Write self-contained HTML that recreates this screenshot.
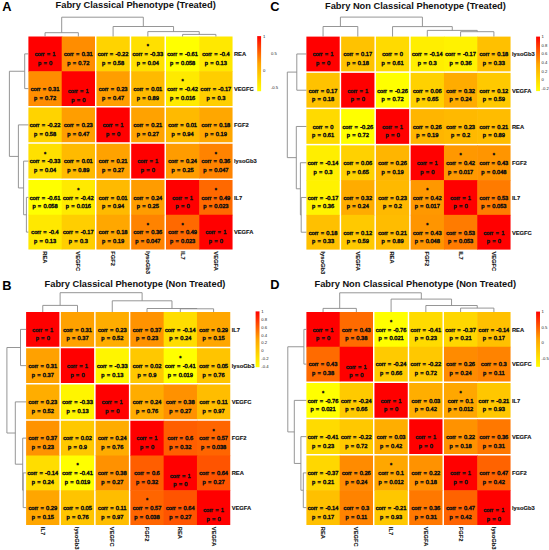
<!DOCTYPE html>
<html><head><meta charset="utf-8"><title>Fabry correlation heatmaps</title>
<style>
html,body{margin:0;padding:0;background:#fff;}
body{width:549px;height:550px;overflow:hidden;}
svg{display:block;}
svg text{font-family:"Liberation Sans", sans-serif;}
.c{font-size:5.70px;fill:#111;stroke:#111;stroke-width:0.45px;word-spacing:0.7px;text-anchor:middle;text-rendering:geometricPrecision;}
.l{font-size:5.75px;font-weight:bold;fill:#111;stroke:#111;stroke-width:0.12px;}
.t{font-size:4.2px;fill:#222;}
.ti{font-size:9.3px;font-weight:bold;fill:#111;}
.le{font-size:12.8px;font-weight:bold;fill:#000;}
line{stroke:#8a8a8a;stroke-width:0.9;}
</style></head><body>
<svg width="549" height="550" viewBox="0 0 549 550">
<rect width="549" height="550" fill="#fff"/>
<rect x="28.40" y="36.50" width="33.90" height="35.35" fill="#ff0000"/>
<rect x="61.70" y="36.50" width="33.30" height="35.35" fill="#ff8d00"/>
<rect x="96.45" y="36.50" width="33.30" height="35.35" fill="#ffd300"/>
<rect x="131.20" y="36.50" width="33.30" height="35.35" fill="#ffe000"/>
<rect x="165.95" y="36.50" width="33.90" height="35.35" fill="#ffff00"/>
<rect x="199.25" y="36.50" width="33.30" height="35.35" fill="#ffe800"/>
<rect x="28.40" y="71.25" width="33.90" height="34.75" fill="#ff8d00"/>
<rect x="61.70" y="71.25" width="33.30" height="34.75" fill="#ff0000"/>
<rect x="96.45" y="71.25" width="33.30" height="34.75" fill="#ff9e00"/>
<rect x="131.20" y="71.25" width="33.30" height="34.75" fill="#ffba00"/>
<rect x="165.95" y="71.25" width="33.90" height="34.75" fill="#ffea00"/>
<rect x="199.25" y="71.25" width="33.30" height="34.75" fill="#ffce00"/>
<rect x="28.40" y="107.50" width="33.90" height="34.75" fill="#ffd300"/>
<rect x="61.70" y="107.50" width="33.30" height="34.75" fill="#ff9e00"/>
<rect x="96.45" y="107.50" width="33.30" height="34.75" fill="#ff0000"/>
<rect x="131.20" y="107.50" width="33.30" height="34.75" fill="#ffa200"/>
<rect x="165.95" y="107.50" width="33.90" height="34.75" fill="#ffba00"/>
<rect x="199.25" y="107.50" width="33.30" height="34.75" fill="#ffa700"/>
<rect x="28.40" y="143.75" width="33.90" height="34.75" fill="#ffe000"/>
<rect x="61.70" y="143.75" width="33.30" height="34.75" fill="#ffba00"/>
<rect x="96.45" y="143.75" width="33.30" height="34.75" fill="#ffa200"/>
<rect x="131.20" y="143.75" width="33.30" height="34.75" fill="#ff0000"/>
<rect x="165.95" y="143.75" width="33.90" height="34.75" fill="#ff9c00"/>
<rect x="199.25" y="143.75" width="33.30" height="34.75" fill="#ff8300"/>
<rect x="28.40" y="180.00" width="33.90" height="35.35" fill="#ffff00"/>
<rect x="61.70" y="180.00" width="33.30" height="35.35" fill="#ffea00"/>
<rect x="96.45" y="180.00" width="33.30" height="35.35" fill="#ffba00"/>
<rect x="131.20" y="180.00" width="33.30" height="35.35" fill="#ff9c00"/>
<rect x="165.95" y="180.00" width="33.90" height="35.35" fill="#ff0000"/>
<rect x="199.25" y="180.00" width="33.30" height="35.35" fill="#ff6900"/>
<rect x="28.40" y="214.75" width="33.90" height="34.75" fill="#ffe800"/>
<rect x="61.70" y="214.75" width="33.30" height="34.75" fill="#ffce00"/>
<rect x="96.45" y="214.75" width="33.30" height="34.75" fill="#ffa700"/>
<rect x="131.20" y="214.75" width="33.30" height="34.75" fill="#ff8300"/>
<rect x="165.95" y="214.75" width="33.90" height="34.75" fill="#ff6900"/>
<rect x="199.25" y="214.75" width="33.30" height="34.75" fill="#ff0000"/>
<text x="45.05" y="56.17" class="c">corr = 1</text>
<text x="45.05" y="64.78" class="c">p = 0</text>
<text x="78.35" y="56.17" class="c">corr = 0.31</text>
<text x="78.35" y="64.78" class="c">p = 0.72</text>
<text x="113.10" y="56.17" class="c">corr = -0.22</text>
<text x="113.10" y="64.78" class="c">p = 0.58</text>
<text x="147.85" y="56.17" class="c">corr = -0.33</text>
<text x="147.85" y="64.78" class="c">p = 0.04</text>
<text x="147.85" y="48.27" class="c">*</text>
<text x="182.60" y="56.17" class="c">corr = -0.61</text>
<text x="182.60" y="64.78" class="c">p = 0.058</text>
<text x="215.90" y="56.17" class="c">corr = -0.4</text>
<text x="215.90" y="64.78" class="c">p = 0.13</text>
<text x="45.05" y="90.92" class="c">corr = 0.31</text>
<text x="45.05" y="99.53" class="c">p = 0.72</text>
<text x="78.35" y="93.33" class="c">corr = 1</text>
<text x="78.35" y="101.93" class="c">p = 0</text>
<text x="113.10" y="90.92" class="c">corr = 0.23</text>
<text x="113.10" y="99.53" class="c">p = 0.47</text>
<text x="147.85" y="90.92" class="c">corr = 0.01</text>
<text x="147.85" y="99.53" class="c">p = 0.89</text>
<text x="182.60" y="90.92" class="c">corr = -0.42</text>
<text x="182.60" y="99.53" class="c">p = 0.016</text>
<text x="182.60" y="83.03" class="c">*</text>
<text x="215.90" y="90.92" class="c">corr = -0.17</text>
<text x="215.90" y="99.53" class="c">p = 0.3</text>
<text x="45.05" y="127.17" class="c">corr = -0.22</text>
<text x="45.05" y="135.78" class="c">p = 0.58</text>
<text x="78.35" y="127.17" class="c">corr = 0.23</text>
<text x="78.35" y="135.78" class="c">p = 0.47</text>
<text x="113.10" y="127.17" class="c">corr = 1</text>
<text x="113.10" y="135.78" class="c">p = 0</text>
<text x="147.85" y="127.17" class="c">corr = 0.21</text>
<text x="147.85" y="135.78" class="c">p = 0.27</text>
<text x="182.60" y="127.17" class="c">corr = 0.01</text>
<text x="182.60" y="135.78" class="c">p = 0.94</text>
<text x="215.90" y="127.17" class="c">corr = 0.18</text>
<text x="215.90" y="135.78" class="c">p = 0.19</text>
<text x="45.05" y="163.43" class="c">corr = -0.33</text>
<text x="45.05" y="172.03" class="c">p = 0.04</text>
<text x="45.05" y="155.53" class="c">*</text>
<text x="78.35" y="163.43" class="c">corr = 0.01</text>
<text x="78.35" y="172.03" class="c">p = 0.89</text>
<text x="113.10" y="163.43" class="c">corr = 0.21</text>
<text x="113.10" y="172.03" class="c">p = 0.27</text>
<text x="147.85" y="163.43" class="c">corr = 1</text>
<text x="147.85" y="172.03" class="c">p = 0</text>
<text x="182.60" y="163.43" class="c">corr = 0.24</text>
<text x="182.60" y="172.03" class="c">p = 0.25</text>
<text x="215.90" y="163.43" class="c">corr = 0.36</text>
<text x="215.90" y="172.03" class="c">p = 0.047</text>
<text x="215.90" y="155.53" class="c">*</text>
<text x="45.05" y="199.68" class="c">corr = -0.61</text>
<text x="45.05" y="208.28" class="c">p = 0.058</text>
<text x="78.35" y="199.68" class="c">corr = -0.42</text>
<text x="78.35" y="208.28" class="c">p = 0.016</text>
<text x="78.35" y="191.78" class="c">*</text>
<text x="113.10" y="199.68" class="c">corr = 0.01</text>
<text x="113.10" y="208.28" class="c">p = 0.94</text>
<text x="147.85" y="199.68" class="c">corr = 0.24</text>
<text x="147.85" y="208.28" class="c">p = 0.25</text>
<text x="182.60" y="199.68" class="c">corr = 1</text>
<text x="182.60" y="208.28" class="c">p = 0</text>
<text x="215.90" y="199.68" class="c">corr = 0.49</text>
<text x="215.90" y="208.28" class="c">p = 0.023</text>
<text x="215.90" y="191.78" class="c">*</text>
<text x="45.05" y="234.43" class="c">corr = -0.4</text>
<text x="45.05" y="243.03" class="c">p = 0.13</text>
<text x="78.35" y="234.43" class="c">corr = -0.17</text>
<text x="78.35" y="243.03" class="c">p = 0.3</text>
<text x="113.10" y="234.43" class="c">corr = 0.18</text>
<text x="113.10" y="243.03" class="c">p = 0.19</text>
<text x="147.85" y="234.43" class="c">corr = 0.36</text>
<text x="147.85" y="243.03" class="c">p = 0.047</text>
<text x="147.85" y="226.53" class="c">*</text>
<text x="182.60" y="234.43" class="c">corr = 0.49</text>
<text x="182.60" y="243.03" class="c">p = 0.023</text>
<text x="182.60" y="226.53" class="c">*</text>
<text x="215.90" y="234.43" class="c">corr = 1</text>
<text x="215.90" y="243.03" class="c">p = 0</text>
<text x="233.95" y="56.17" class="l">REA</text>
<text x="233.95" y="90.92" class="l">VEGFC</text>
<text x="233.95" y="127.17" class="l">FGF2</text>
<text x="233.95" y="163.43" class="l">lysoGb3</text>
<text x="233.95" y="199.68" class="l">IL7</text>
<text x="233.95" y="234.43" class="l">VEGFA</text>
<text transform="translate(42.95 251.30) rotate(90)" class="l">REA</text>
<text transform="translate(76.25 251.30) rotate(90)" class="l">VEGFC</text>
<text transform="translate(111.00 251.30) rotate(90)" class="l">FGF2</text>
<text transform="translate(145.75 251.30) rotate(90)" class="l">lysoGb3</text>
<text transform="translate(180.50 251.30) rotate(90)" class="l">IL7</text>
<text transform="translate(213.80 251.30) rotate(90)" class="l">VEGFA</text>
<line x1="182.60" y1="34.40" x2="215.90" y2="34.40"/>
<line x1="182.60" y1="34.40" x2="182.60" y2="36.50"/>
<line x1="215.90" y1="34.40" x2="215.90" y2="36.50"/>
<line x1="147.85" y1="31.60" x2="199.25" y2="31.60"/>
<line x1="147.85" y1="31.60" x2="147.85" y2="36.50"/>
<line x1="199.25" y1="31.60" x2="199.25" y2="34.40"/>
<line x1="113.10" y1="26.50" x2="173.55" y2="26.50"/>
<line x1="113.10" y1="26.50" x2="113.10" y2="36.50"/>
<line x1="173.55" y1="26.50" x2="173.55" y2="31.60"/>
<line x1="45.05" y1="32.70" x2="78.35" y2="32.70"/>
<line x1="45.05" y1="32.70" x2="45.05" y2="36.50"/>
<line x1="78.35" y1="32.70" x2="78.35" y2="36.50"/>
<line x1="61.70" y1="17.20" x2="143.32" y2="17.20"/>
<line x1="61.70" y1="17.20" x2="61.70" y2="32.70"/>
<line x1="143.32" y1="17.20" x2="143.32" y2="26.50"/>
<line x1="26.40" y1="197.38" x2="26.40" y2="232.12"/>
<line x1="26.40" y1="197.38" x2="28.40" y2="197.38"/>
<line x1="26.40" y1="232.12" x2="28.40" y2="232.12"/>
<line x1="23.60" y1="161.12" x2="23.60" y2="214.75"/>
<line x1="23.60" y1="161.12" x2="28.40" y2="161.12"/>
<line x1="23.60" y1="214.75" x2="26.40" y2="214.75"/>
<line x1="18.40" y1="124.88" x2="18.40" y2="187.94"/>
<line x1="18.40" y1="124.88" x2="28.40" y2="124.88"/>
<line x1="18.40" y1="187.94" x2="23.60" y2="187.94"/>
<line x1="24.70" y1="53.88" x2="24.70" y2="88.62"/>
<line x1="24.70" y1="53.88" x2="28.40" y2="53.88"/>
<line x1="24.70" y1="88.62" x2="28.40" y2="88.62"/>
<line x1="9.40" y1="71.25" x2="9.40" y2="156.41"/>
<line x1="9.40" y1="71.25" x2="24.70" y2="71.25"/>
<line x1="9.40" y1="156.41" x2="18.40" y2="156.41"/>
<defs><linearGradient id="gA" x1="0" y1="1" x2="0" y2="0"><stop offset="0" stop-color="#ffff00"/><stop offset="0.5" stop-color="#ffa500"/><stop offset="1" stop-color="#ff0000"/></linearGradient></defs>
<rect x="257.20" y="36.10" width="3.9" height="55.10" fill="url(#gA)"/>
<text x="263.00" y="37.50" class="t">1</text>
<text x="270.90" y="54.61" class="t">0.5</text>
<text x="263.00" y="71.72" class="t">0</text>
<text x="270.90" y="88.84" class="t">-0.5</text>
<text x="55.60" y="8.20" class="ti">Fabry Classical Phenotype (Treated)</text>
<text x="2.30" y="11.30" class="le">A</text>
<rect x="26.10" y="312.00" width="33.30" height="34.75" fill="#ff0000"/>
<rect x="60.85" y="312.00" width="33.30" height="34.75" fill="#ffa100"/>
<rect x="95.60" y="312.00" width="33.30" height="34.75" fill="#ffad00"/>
<rect x="130.35" y="312.00" width="33.90" height="34.75" fill="#ff9300"/>
<rect x="163.65" y="312.00" width="33.90" height="34.75" fill="#ffdd00"/>
<rect x="196.95" y="312.00" width="33.30" height="34.75" fill="#ffa600"/>
<rect x="26.10" y="348.25" width="33.30" height="34.75" fill="#ffa100"/>
<rect x="60.85" y="348.25" width="33.30" height="34.75" fill="#ff0000"/>
<rect x="95.60" y="348.25" width="33.30" height="34.75" fill="#fff500"/>
<rect x="130.35" y="348.25" width="33.90" height="34.75" fill="#ffc800"/>
<rect x="163.65" y="348.25" width="33.90" height="34.75" fill="#ffff00"/>
<rect x="196.95" y="348.25" width="33.30" height="34.75" fill="#ffc400"/>
<rect x="26.10" y="384.50" width="33.30" height="34.75" fill="#ffad00"/>
<rect x="60.85" y="384.50" width="33.30" height="34.75" fill="#fff500"/>
<rect x="95.60" y="384.50" width="33.30" height="34.75" fill="#ff0000"/>
<rect x="130.35" y="384.50" width="33.90" height="34.75" fill="#ffac00"/>
<rect x="163.65" y="384.50" width="33.90" height="34.75" fill="#ff9100"/>
<rect x="196.95" y="384.50" width="33.30" height="34.75" fill="#ffbd00"/>
<rect x="26.10" y="420.75" width="33.30" height="35.35" fill="#ff9300"/>
<rect x="60.85" y="420.75" width="33.30" height="35.35" fill="#ffc800"/>
<rect x="95.60" y="420.75" width="33.30" height="35.35" fill="#ffac00"/>
<rect x="130.35" y="420.75" width="33.90" height="35.35" fill="#ff0000"/>
<rect x="163.65" y="420.75" width="33.90" height="35.35" fill="#ff5e00"/>
<rect x="196.95" y="420.75" width="33.30" height="35.35" fill="#ff6500"/>
<rect x="26.10" y="455.50" width="33.30" height="35.35" fill="#ffdd00"/>
<rect x="60.85" y="455.50" width="33.30" height="35.35" fill="#ffff00"/>
<rect x="95.60" y="455.50" width="33.30" height="35.35" fill="#ff9100"/>
<rect x="130.35" y="455.50" width="33.90" height="35.35" fill="#ff5e00"/>
<rect x="163.65" y="455.50" width="33.90" height="35.35" fill="#ff0000"/>
<rect x="196.95" y="455.50" width="33.30" height="35.35" fill="#ff5400"/>
<rect x="26.10" y="490.25" width="33.30" height="34.75" fill="#ffa600"/>
<rect x="60.85" y="490.25" width="33.30" height="34.75" fill="#ffc400"/>
<rect x="95.60" y="490.25" width="33.30" height="34.75" fill="#ffbd00"/>
<rect x="130.35" y="490.25" width="33.90" height="34.75" fill="#ff6500"/>
<rect x="163.65" y="490.25" width="33.90" height="34.75" fill="#ff5400"/>
<rect x="196.95" y="490.25" width="33.30" height="34.75" fill="#ff0000"/>
<text x="42.75" y="331.68" class="c">corr = 1</text>
<text x="42.75" y="340.27" class="c">p = 0</text>
<text x="77.50" y="331.68" class="c">corr = 0.31</text>
<text x="77.50" y="340.27" class="c">p = 0.37</text>
<text x="112.25" y="331.68" class="c">corr = 0.23</text>
<text x="112.25" y="340.27" class="c">p = 0.52</text>
<text x="147.00" y="331.68" class="c">corr = 0.37</text>
<text x="147.00" y="340.27" class="c">p = 0.23</text>
<text x="180.30" y="331.68" class="c">corr = -0.14</text>
<text x="180.30" y="340.27" class="c">p = 0.24</text>
<text x="213.60" y="331.68" class="c">corr = 0.29</text>
<text x="213.60" y="340.27" class="c">p = 0.15</text>
<text x="42.75" y="367.93" class="c">corr = 0.31</text>
<text x="42.75" y="376.52" class="c">p = 0.37</text>
<text x="77.50" y="367.93" class="c">corr = 1</text>
<text x="77.50" y="376.52" class="c">p = 0</text>
<text x="112.25" y="367.93" class="c">corr = -0.33</text>
<text x="112.25" y="376.52" class="c">p = 0.13</text>
<text x="147.00" y="367.93" class="c">corr = 0.02</text>
<text x="147.00" y="376.52" class="c">p = 0.9</text>
<text x="180.30" y="367.93" class="c">corr = -0.41</text>
<text x="180.30" y="376.52" class="c">p = 0.019</text>
<text x="180.30" y="360.02" class="c">*</text>
<text x="213.60" y="367.93" class="c">corr = 0.05</text>
<text x="213.60" y="376.52" class="c">p = 0.76</text>
<text x="42.75" y="404.18" class="c">corr = 0.23</text>
<text x="42.75" y="412.77" class="c">p = 0.52</text>
<text x="77.50" y="404.18" class="c">corr = -0.33</text>
<text x="77.50" y="412.77" class="c">p = 0.13</text>
<text x="112.25" y="404.18" class="c">corr = 1</text>
<text x="112.25" y="412.77" class="c">p = 0</text>
<text x="147.00" y="404.18" class="c">corr = 0.24</text>
<text x="147.00" y="412.77" class="c">p = 0.76</text>
<text x="180.30" y="404.18" class="c">corr = 0.38</text>
<text x="180.30" y="412.77" class="c">p = 0.27</text>
<text x="213.60" y="404.18" class="c">corr = 0.11</text>
<text x="213.60" y="412.77" class="c">p = 0.97</text>
<text x="42.75" y="440.43" class="c">corr = 0.37</text>
<text x="42.75" y="449.02" class="c">p = 0.23</text>
<text x="77.50" y="440.43" class="c">corr = 0.02</text>
<text x="77.50" y="449.02" class="c">p = 0.9</text>
<text x="112.25" y="440.43" class="c">corr = 0.24</text>
<text x="112.25" y="449.02" class="c">p = 0.76</text>
<text x="147.00" y="440.43" class="c">corr = 1</text>
<text x="147.00" y="449.02" class="c">p = 0</text>
<text x="180.30" y="440.43" class="c">corr = 0.6</text>
<text x="180.30" y="449.02" class="c">p = 0.32</text>
<text x="213.60" y="440.43" class="c">corr = 0.57</text>
<text x="213.60" y="449.02" class="c">p = 0.038</text>
<text x="213.60" y="432.52" class="c">*</text>
<text x="42.75" y="475.18" class="c">corr = -0.14</text>
<text x="42.75" y="483.77" class="c">p = 0.24</text>
<text x="77.50" y="475.18" class="c">corr = -0.41</text>
<text x="77.50" y="483.77" class="c">p = 0.019</text>
<text x="77.50" y="467.27" class="c">*</text>
<text x="112.25" y="475.18" class="c">corr = 0.38</text>
<text x="112.25" y="483.77" class="c">p = 0.27</text>
<text x="147.00" y="475.18" class="c">corr = 0.6</text>
<text x="147.00" y="483.77" class="c">p = 0.32</text>
<text x="180.30" y="477.57" class="c">corr = 1</text>
<text x="180.30" y="486.17" class="c">p = 0</text>
<text x="213.60" y="475.18" class="c">corr = 0.64</text>
<text x="213.60" y="483.77" class="c">p = 0.27</text>
<text x="42.75" y="509.93" class="c">corr = 0.29</text>
<text x="42.75" y="518.52" class="c">p = 0.15</text>
<text x="77.50" y="509.93" class="c">corr = 0.05</text>
<text x="77.50" y="518.52" class="c">p = 0.76</text>
<text x="112.25" y="509.93" class="c">corr = 0.11</text>
<text x="112.25" y="518.52" class="c">p = 0.97</text>
<text x="147.00" y="509.93" class="c">corr = 0.57</text>
<text x="147.00" y="518.52" class="c">p = 0.038</text>
<text x="147.00" y="502.02" class="c">*</text>
<text x="180.30" y="509.93" class="c">corr = 0.64</text>
<text x="180.30" y="518.52" class="c">p = 0.27</text>
<text x="213.60" y="512.32" class="c">corr = 1</text>
<text x="213.60" y="520.92" class="c">p = 0</text>
<text x="231.65" y="331.68" class="l">IL7</text>
<text x="231.65" y="367.93" class="l">lysoGb3</text>
<text x="231.65" y="404.18" class="l">VEGFC</text>
<text x="231.65" y="440.43" class="l">FGF2</text>
<text x="231.65" y="475.18" class="l">REA</text>
<text x="231.65" y="509.93" class="l">VEGFA</text>
<text transform="translate(40.65 526.80) rotate(90)" class="l">IL7</text>
<text transform="translate(75.40 526.80) rotate(90)" class="l">lysoGb3</text>
<text transform="translate(110.15 526.80) rotate(90)" class="l">VEGFC</text>
<text transform="translate(144.90 526.80) rotate(90)" class="l">FGF2</text>
<text transform="translate(178.20 526.80) rotate(90)" class="l">REA</text>
<text transform="translate(211.50 526.80) rotate(90)" class="l">VEGFA</text>
<line x1="180.30" y1="308.80" x2="213.60" y2="308.80"/>
<line x1="180.30" y1="308.80" x2="180.30" y2="312.00"/>
<line x1="213.60" y1="308.80" x2="213.60" y2="312.00"/>
<line x1="147.00" y1="308.50" x2="196.95" y2="308.50"/>
<line x1="147.00" y1="308.50" x2="147.00" y2="312.00"/>
<line x1="196.95" y1="308.50" x2="196.95" y2="308.80"/>
<line x1="112.25" y1="300.80" x2="171.97" y2="300.80"/>
<line x1="112.25" y1="300.80" x2="112.25" y2="312.00"/>
<line x1="171.97" y1="300.80" x2="171.97" y2="308.50"/>
<line x1="42.75" y1="305.40" x2="77.50" y2="305.40"/>
<line x1="42.75" y1="305.40" x2="42.75" y2="312.00"/>
<line x1="77.50" y1="305.40" x2="77.50" y2="312.00"/>
<line x1="60.12" y1="292.70" x2="142.11" y2="292.70"/>
<line x1="60.12" y1="292.70" x2="60.12" y2="305.40"/>
<line x1="142.11" y1="292.70" x2="142.11" y2="300.80"/>
<line x1="23.20" y1="472.88" x2="23.20" y2="507.62"/>
<line x1="23.20" y1="472.88" x2="26.10" y2="472.88"/>
<line x1="23.20" y1="507.62" x2="26.10" y2="507.62"/>
<line x1="22.70" y1="438.12" x2="22.70" y2="490.25"/>
<line x1="22.70" y1="438.12" x2="26.10" y2="438.12"/>
<line x1="22.70" y1="490.25" x2="23.20" y2="490.25"/>
<line x1="15.30" y1="401.88" x2="15.30" y2="464.19"/>
<line x1="15.30" y1="401.88" x2="26.10" y2="401.88"/>
<line x1="15.30" y1="464.19" x2="22.70" y2="464.19"/>
<line x1="20.50" y1="329.38" x2="20.50" y2="365.62"/>
<line x1="20.50" y1="329.38" x2="26.10" y2="329.38"/>
<line x1="20.50" y1="365.62" x2="26.10" y2="365.62"/>
<line x1="6.90" y1="347.50" x2="6.90" y2="433.03"/>
<line x1="6.90" y1="347.50" x2="20.50" y2="347.50"/>
<line x1="6.90" y1="433.03" x2="15.30" y2="433.03"/>
<defs><linearGradient id="gB" x1="0" y1="1" x2="0" y2="0"><stop offset="0" stop-color="#ffff00"/><stop offset="0.5" stop-color="#ffa500"/><stop offset="1" stop-color="#ff0000"/></linearGradient></defs>
<rect x="255.60" y="311.40" width="3.9" height="55.80" fill="url(#gB)"/>
<text x="261.30" y="312.80" class="t">1</text>
<text x="261.30" y="320.71" class="t">0.8</text>
<text x="261.30" y="328.63" class="t">0.6</text>
<text x="261.30" y="336.54" class="t">0.4</text>
<text x="261.30" y="344.46" class="t">0.2</text>
<text x="261.30" y="352.37" class="t">0</text>
<text x="261.30" y="360.29" class="t">-0.2</text>
<text x="261.30" y="368.20" class="t">-0.4</text>
<text x="44.60" y="286.90" class="ti">Fabry Classical Phenotype (Non Treated)</text>
<text x="2.30" y="290.00" class="le">B</text>
<rect x="306.40" y="36.60" width="33.30" height="34.75" fill="#ff0000"/>
<rect x="341.15" y="36.60" width="33.30" height="34.75" fill="#ffc200"/>
<rect x="375.90" y="36.60" width="33.30" height="34.75" fill="#ffda00"/>
<rect x="410.65" y="36.60" width="33.90" height="34.75" fill="#ffee00"/>
<rect x="443.95" y="36.60" width="33.90" height="34.75" fill="#fff200"/>
<rect x="477.25" y="36.60" width="33.30" height="34.75" fill="#ffc000"/>
<rect x="306.40" y="72.85" width="33.30" height="34.75" fill="#ffc200"/>
<rect x="341.15" y="72.85" width="33.30" height="34.75" fill="#ff0000"/>
<rect x="375.90" y="72.85" width="33.30" height="34.75" fill="#ffff00"/>
<rect x="410.65" y="72.85" width="33.90" height="34.75" fill="#ffd100"/>
<rect x="443.95" y="72.85" width="33.90" height="34.75" fill="#ffac00"/>
<rect x="477.25" y="72.85" width="33.30" height="34.75" fill="#ffc900"/>
<rect x="306.40" y="109.10" width="33.30" height="34.75" fill="#ffda00"/>
<rect x="341.15" y="109.10" width="33.30" height="34.75" fill="#ffff00"/>
<rect x="375.90" y="109.10" width="33.30" height="34.75" fill="#ff0000"/>
<rect x="410.65" y="109.10" width="33.90" height="34.75" fill="#ffb500"/>
<rect x="443.95" y="109.10" width="33.90" height="34.75" fill="#ffb900"/>
<rect x="477.25" y="109.10" width="33.30" height="34.75" fill="#ffbc00"/>
<rect x="306.40" y="145.35" width="33.30" height="35.35" fill="#ffee00"/>
<rect x="341.15" y="145.35" width="33.30" height="35.35" fill="#ffd100"/>
<rect x="375.90" y="145.35" width="33.30" height="35.35" fill="#ffb500"/>
<rect x="410.65" y="145.35" width="33.90" height="35.35" fill="#ff0000"/>
<rect x="443.95" y="145.35" width="33.90" height="35.35" fill="#ff9800"/>
<rect x="477.25" y="145.35" width="33.30" height="35.35" fill="#ff9500"/>
<rect x="306.40" y="180.10" width="33.30" height="35.35" fill="#fff200"/>
<rect x="341.15" y="180.10" width="33.30" height="35.35" fill="#ffac00"/>
<rect x="375.90" y="180.10" width="33.30" height="35.35" fill="#ffb900"/>
<rect x="410.65" y="180.10" width="33.90" height="35.35" fill="#ff9800"/>
<rect x="443.95" y="180.10" width="33.90" height="35.35" fill="#ff0000"/>
<rect x="477.25" y="180.10" width="33.30" height="35.35" fill="#ff7b00"/>
<rect x="306.40" y="214.85" width="33.30" height="34.75" fill="#ffc000"/>
<rect x="341.15" y="214.85" width="33.30" height="34.75" fill="#ffc900"/>
<rect x="375.90" y="214.85" width="33.30" height="34.75" fill="#ffbc00"/>
<rect x="410.65" y="214.85" width="33.90" height="34.75" fill="#ff9500"/>
<rect x="443.95" y="214.85" width="33.90" height="34.75" fill="#ff7b00"/>
<rect x="477.25" y="214.85" width="33.30" height="34.75" fill="#ff0000"/>
<text x="323.05" y="56.27" class="c">corr = 1</text>
<text x="323.05" y="64.88" class="c">p = 0</text>
<text x="357.80" y="56.27" class="c">corr = 0.17</text>
<text x="357.80" y="64.88" class="c">p = 0.18</text>
<text x="392.55" y="56.27" class="c">corr = 0</text>
<text x="392.55" y="64.88" class="c">p = 0.61</text>
<text x="427.30" y="56.27" class="c">corr = -0.14</text>
<text x="427.30" y="64.88" class="c">p = 0.3</text>
<text x="460.60" y="56.27" class="c">corr = -0.17</text>
<text x="460.60" y="64.88" class="c">p = 0.36</text>
<text x="493.90" y="56.27" class="c">corr = 0.18</text>
<text x="493.90" y="64.88" class="c">p = 0.33</text>
<text x="323.05" y="92.52" class="c">corr = 0.17</text>
<text x="323.05" y="101.12" class="c">p = 0.18</text>
<text x="357.80" y="92.52" class="c">corr = 1</text>
<text x="357.80" y="101.12" class="c">p = 0</text>
<text x="392.55" y="92.52" class="c">corr = -0.26</text>
<text x="392.55" y="101.12" class="c">p = 0.72</text>
<text x="427.30" y="92.52" class="c">corr = 0.06</text>
<text x="427.30" y="101.12" class="c">p = 0.65</text>
<text x="460.60" y="92.52" class="c">corr = 0.32</text>
<text x="460.60" y="101.12" class="c">p = 0.24</text>
<text x="493.90" y="92.52" class="c">corr = 0.12</text>
<text x="493.90" y="101.12" class="c">p = 0.59</text>
<text x="323.05" y="128.78" class="c">corr = 0</text>
<text x="323.05" y="137.38" class="c">p = 0.61</text>
<text x="357.80" y="128.78" class="c">corr = -0.26</text>
<text x="357.80" y="137.38" class="c">p = 0.72</text>
<text x="392.55" y="128.78" class="c">corr = 1</text>
<text x="392.55" y="137.38" class="c">p = 0</text>
<text x="427.30" y="128.78" class="c">corr = 0.26</text>
<text x="427.30" y="137.38" class="c">p = 0.19</text>
<text x="460.60" y="128.78" class="c">corr = 0.23</text>
<text x="460.60" y="137.38" class="c">p = 0.2</text>
<text x="493.90" y="128.78" class="c">corr = 0.21</text>
<text x="493.90" y="137.38" class="c">p = 0.89</text>
<text x="323.05" y="165.03" class="c">corr = -0.14</text>
<text x="323.05" y="173.62" class="c">p = 0.3</text>
<text x="357.80" y="165.03" class="c">corr = 0.06</text>
<text x="357.80" y="173.62" class="c">p = 0.65</text>
<text x="392.55" y="165.03" class="c">corr = 0.26</text>
<text x="392.55" y="173.62" class="c">p = 0.19</text>
<text x="427.30" y="165.03" class="c">corr = 1</text>
<text x="427.30" y="173.62" class="c">p = 0</text>
<text x="460.60" y="165.03" class="c">corr = 0.42</text>
<text x="460.60" y="173.62" class="c">p = 0.017</text>
<text x="460.60" y="157.12" class="c">*</text>
<text x="493.90" y="165.03" class="c">corr = 0.43</text>
<text x="493.90" y="173.62" class="c">p = 0.048</text>
<text x="493.90" y="157.12" class="c">*</text>
<text x="323.05" y="199.78" class="c">corr = -0.17</text>
<text x="323.05" y="208.38" class="c">p = 0.36</text>
<text x="357.80" y="199.78" class="c">corr = 0.32</text>
<text x="357.80" y="208.38" class="c">p = 0.24</text>
<text x="392.55" y="199.78" class="c">corr = 0.23</text>
<text x="392.55" y="208.38" class="c">p = 0.2</text>
<text x="427.30" y="199.78" class="c">corr = 0.42</text>
<text x="427.30" y="208.38" class="c">p = 0.017</text>
<text x="427.30" y="191.88" class="c">*</text>
<text x="460.60" y="199.78" class="c">corr = 1</text>
<text x="460.60" y="208.38" class="c">p = 0</text>
<text x="493.90" y="199.78" class="c">corr = 0.53</text>
<text x="493.90" y="208.38" class="c">p = 0.053</text>
<text x="323.05" y="234.53" class="c">corr = 0.18</text>
<text x="323.05" y="243.12" class="c">p = 0.33</text>
<text x="357.80" y="234.53" class="c">corr = 0.12</text>
<text x="357.80" y="243.12" class="c">p = 0.59</text>
<text x="392.55" y="234.53" class="c">corr = 0.21</text>
<text x="392.55" y="243.12" class="c">p = 0.89</text>
<text x="427.30" y="234.53" class="c">corr = 0.43</text>
<text x="427.30" y="243.12" class="c">p = 0.048</text>
<text x="427.30" y="226.62" class="c">*</text>
<text x="460.60" y="234.53" class="c">corr = 0.53</text>
<text x="460.60" y="243.12" class="c">p = 0.053</text>
<text x="493.90" y="234.53" class="c">corr = 1</text>
<text x="493.90" y="243.12" class="c">p = 0</text>
<text x="511.95" y="56.27" class="l">lysoGb3</text>
<text x="511.95" y="92.52" class="l">VEGFA</text>
<text x="511.95" y="128.78" class="l">REA</text>
<text x="511.95" y="165.03" class="l">FGF2</text>
<text x="511.95" y="199.78" class="l">IL7</text>
<text x="511.95" y="234.53" class="l">VEGFC</text>
<text transform="translate(320.95 251.40) rotate(90)" class="l">lysoGb3</text>
<text transform="translate(355.70 251.40) rotate(90)" class="l">VEGFA</text>
<text transform="translate(390.45 251.40) rotate(90)" class="l">REA</text>
<text transform="translate(425.20 251.40) rotate(90)" class="l">FGF2</text>
<text transform="translate(458.50 251.40) rotate(90)" class="l">IL7</text>
<text transform="translate(491.80 251.40) rotate(90)" class="l">VEGFC</text>
<line x1="460.60" y1="31.70" x2="493.90" y2="31.70"/>
<line x1="460.60" y1="31.70" x2="460.60" y2="36.60"/>
<line x1="493.90" y1="31.70" x2="493.90" y2="36.60"/>
<line x1="427.30" y1="30.40" x2="477.25" y2="30.40"/>
<line x1="427.30" y1="30.40" x2="427.30" y2="36.60"/>
<line x1="477.25" y1="30.40" x2="477.25" y2="31.70"/>
<line x1="392.55" y1="26.60" x2="452.27" y2="26.60"/>
<line x1="392.55" y1="26.60" x2="392.55" y2="36.60"/>
<line x1="452.27" y1="26.60" x2="452.27" y2="30.40"/>
<line x1="323.05" y1="26.50" x2="357.80" y2="26.50"/>
<line x1="323.05" y1="26.50" x2="323.05" y2="36.60"/>
<line x1="357.80" y1="26.50" x2="357.80" y2="36.60"/>
<line x1="340.42" y1="17.10" x2="422.41" y2="17.10"/>
<line x1="340.42" y1="17.10" x2="340.42" y2="26.50"/>
<line x1="422.41" y1="17.10" x2="422.41" y2="26.60"/>
<line x1="301.20" y1="197.47" x2="301.20" y2="232.22"/>
<line x1="301.20" y1="197.47" x2="306.40" y2="197.47"/>
<line x1="301.20" y1="232.22" x2="306.40" y2="232.22"/>
<line x1="300.40" y1="162.72" x2="300.40" y2="214.85"/>
<line x1="300.40" y1="162.72" x2="306.40" y2="162.72"/>
<line x1="300.40" y1="214.85" x2="301.20" y2="214.85"/>
<line x1="296.30" y1="126.47" x2="296.30" y2="188.79"/>
<line x1="296.30" y1="126.47" x2="306.40" y2="126.47"/>
<line x1="296.30" y1="188.79" x2="300.40" y2="188.79"/>
<line x1="296.80" y1="53.98" x2="296.80" y2="90.22"/>
<line x1="296.80" y1="53.98" x2="306.40" y2="53.98"/>
<line x1="296.80" y1="90.22" x2="306.40" y2="90.22"/>
<line x1="287.30" y1="72.10" x2="287.30" y2="157.63"/>
<line x1="287.30" y1="72.10" x2="296.80" y2="72.10"/>
<line x1="287.30" y1="157.63" x2="296.30" y2="157.63"/>
<defs><linearGradient id="gC" x1="0" y1="1" x2="0" y2="0"><stop offset="0" stop-color="#ffff00"/><stop offset="0.5" stop-color="#ffa500"/><stop offset="1" stop-color="#ff0000"/></linearGradient></defs>
<rect x="536.10" y="36.60" width="3.9" height="54.50" fill="url(#gC)"/>
<text x="541.50" y="38.00" class="t">1</text>
<text x="541.50" y="46.65" class="t">0.8</text>
<text x="541.50" y="55.30" class="t">0.6</text>
<text x="541.50" y="63.95" class="t">0.4</text>
<text x="541.50" y="72.60" class="t">0.2</text>
<text x="541.50" y="81.25" class="t">0</text>
<text x="541.50" y="89.90" class="t">-0.2</text>
<text x="325.00" y="8.80" class="ti">Fabry Non Classical Phenotype (Treated)</text>
<text x="270.30" y="10.90" class="le">C</text>
<rect x="306.40" y="312.00" width="33.90" height="35.35" fill="#ff0000"/>
<rect x="339.70" y="312.00" width="33.30" height="35.35" fill="#ff6b00"/>
<rect x="374.45" y="312.00" width="33.30" height="35.35" fill="#ffff00"/>
<rect x="409.20" y="312.00" width="33.30" height="35.35" fill="#ffdb00"/>
<rect x="443.95" y="312.00" width="33.90" height="35.35" fill="#ffd700"/>
<rect x="477.25" y="312.00" width="33.30" height="35.35" fill="#ffc000"/>
<rect x="306.40" y="346.75" width="33.90" height="34.75" fill="#ff6b00"/>
<rect x="339.70" y="346.75" width="33.30" height="34.75" fill="#ff0000"/>
<rect x="374.45" y="346.75" width="33.30" height="34.75" fill="#ffca00"/>
<rect x="409.20" y="346.75" width="33.30" height="34.75" fill="#ffc800"/>
<rect x="443.95" y="346.75" width="33.90" height="34.75" fill="#ff8b00"/>
<rect x="477.25" y="346.75" width="33.30" height="34.75" fill="#ff8300"/>
<rect x="306.40" y="383.00" width="33.90" height="34.75" fill="#ffff00"/>
<rect x="339.70" y="383.00" width="33.30" height="34.75" fill="#ffca00"/>
<rect x="374.45" y="383.00" width="33.30" height="34.75" fill="#ff0000"/>
<rect x="409.20" y="383.00" width="33.30" height="34.75" fill="#ffae00"/>
<rect x="443.95" y="383.00" width="33.90" height="34.75" fill="#ffa700"/>
<rect x="477.25" y="383.00" width="33.30" height="34.75" fill="#ffc700"/>
<rect x="306.40" y="419.25" width="33.90" height="34.75" fill="#ffdb00"/>
<rect x="339.70" y="419.25" width="33.30" height="34.75" fill="#ffc800"/>
<rect x="374.45" y="419.25" width="33.30" height="34.75" fill="#ffae00"/>
<rect x="409.20" y="419.25" width="33.30" height="34.75" fill="#ff0000"/>
<rect x="443.95" y="419.25" width="33.90" height="34.75" fill="#ff9200"/>
<rect x="477.25" y="419.25" width="33.30" height="34.75" fill="#ff7800"/>
<rect x="306.40" y="455.50" width="33.90" height="35.35" fill="#ffd700"/>
<rect x="339.70" y="455.50" width="33.30" height="35.35" fill="#ff8b00"/>
<rect x="374.45" y="455.50" width="33.30" height="35.35" fill="#ffa700"/>
<rect x="409.20" y="455.50" width="33.30" height="35.35" fill="#ff9200"/>
<rect x="443.95" y="455.50" width="33.90" height="35.35" fill="#ff0000"/>
<rect x="477.25" y="455.50" width="33.30" height="35.35" fill="#ff6300"/>
<rect x="306.40" y="490.25" width="33.90" height="34.75" fill="#ffc000"/>
<rect x="339.70" y="490.25" width="33.30" height="34.75" fill="#ff8300"/>
<rect x="374.45" y="490.25" width="33.30" height="34.75" fill="#ffc700"/>
<rect x="409.20" y="490.25" width="33.30" height="34.75" fill="#ff7800"/>
<rect x="443.95" y="490.25" width="33.90" height="34.75" fill="#ff6300"/>
<rect x="477.25" y="490.25" width="33.30" height="34.75" fill="#ff0000"/>
<text x="323.05" y="331.68" class="c">corr = 1</text>
<text x="323.05" y="340.27" class="c">p = 0</text>
<text x="356.35" y="331.68" class="c">corr = 0.43</text>
<text x="356.35" y="340.27" class="c">p = 0.38</text>
<text x="391.10" y="331.68" class="c">corr = -0.76</text>
<text x="391.10" y="340.27" class="c">p = 0.021</text>
<text x="391.10" y="323.77" class="c">*</text>
<text x="425.85" y="331.68" class="c">corr = -0.41</text>
<text x="425.85" y="340.27" class="c">p = 0.23</text>
<text x="460.60" y="331.68" class="c">corr = -0.37</text>
<text x="460.60" y="340.27" class="c">p = 0.21</text>
<text x="493.90" y="331.68" class="c">corr = -0.14</text>
<text x="493.90" y="340.27" class="c">p = 0.17</text>
<text x="323.05" y="366.43" class="c">corr = 0.43</text>
<text x="323.05" y="375.02" class="c">p = 0.38</text>
<text x="356.35" y="368.82" class="c">corr = 1</text>
<text x="356.35" y="377.42" class="c">p = 0</text>
<text x="391.10" y="366.43" class="c">corr = -0.24</text>
<text x="391.10" y="375.02" class="c">p = 0.66</text>
<text x="425.85" y="366.43" class="c">corr = -0.22</text>
<text x="425.85" y="375.02" class="c">p = 0.72</text>
<text x="460.60" y="366.43" class="c">corr = 0.26</text>
<text x="460.60" y="375.02" class="c">p = 0.24</text>
<text x="493.90" y="366.43" class="c">corr = 0.3</text>
<text x="493.90" y="375.02" class="c">p = 0.11</text>
<text x="323.05" y="402.68" class="c">corr = -0.76</text>
<text x="323.05" y="411.27" class="c">p = 0.021</text>
<text x="323.05" y="394.77" class="c">*</text>
<text x="356.35" y="402.68" class="c">corr = -0.24</text>
<text x="356.35" y="411.27" class="c">p = 0.66</text>
<text x="391.10" y="402.68" class="c">corr = 1</text>
<text x="391.10" y="411.27" class="c">p = 0</text>
<text x="425.85" y="402.68" class="c">corr = 0.03</text>
<text x="425.85" y="411.27" class="c">p = 0.42</text>
<text x="460.60" y="402.68" class="c">corr = 0.1</text>
<text x="460.60" y="411.27" class="c">p = 0.012</text>
<text x="460.60" y="394.77" class="c">*</text>
<text x="493.90" y="402.68" class="c">corr = -0.21</text>
<text x="493.90" y="411.27" class="c">p = 0.93</text>
<text x="323.05" y="438.93" class="c">corr = -0.41</text>
<text x="323.05" y="447.52" class="c">p = 0.23</text>
<text x="356.35" y="438.93" class="c">corr = -0.22</text>
<text x="356.35" y="447.52" class="c">p = 0.72</text>
<text x="391.10" y="438.93" class="c">corr = 0.03</text>
<text x="391.10" y="447.52" class="c">p = 0.42</text>
<text x="425.85" y="438.93" class="c">corr = 1</text>
<text x="425.85" y="447.52" class="c">p = 0</text>
<text x="460.60" y="438.93" class="c">corr = 0.22</text>
<text x="460.60" y="447.52" class="c">p = 0.18</text>
<text x="493.90" y="438.93" class="c">corr = 0.36</text>
<text x="493.90" y="447.52" class="c">p = 0.31</text>
<text x="323.05" y="475.18" class="c">corr = -0.37</text>
<text x="323.05" y="483.77" class="c">p = 0.21</text>
<text x="356.35" y="475.18" class="c">corr = 0.26</text>
<text x="356.35" y="483.77" class="c">p = 0.24</text>
<text x="391.10" y="475.18" class="c">corr = 0.1</text>
<text x="391.10" y="483.77" class="c">p = 0.012</text>
<text x="391.10" y="467.27" class="c">*</text>
<text x="425.85" y="475.18" class="c">corr = 0.22</text>
<text x="425.85" y="483.77" class="c">p = 0.18</text>
<text x="460.60" y="475.18" class="c">corr = 1</text>
<text x="460.60" y="483.77" class="c">p = 0</text>
<text x="493.90" y="475.18" class="c">corr = 0.47</text>
<text x="493.90" y="483.77" class="c">p = 0.42</text>
<text x="323.05" y="509.93" class="c">corr = -0.14</text>
<text x="323.05" y="518.52" class="c">p = 0.17</text>
<text x="356.35" y="509.93" class="c">corr = 0.3</text>
<text x="356.35" y="518.52" class="c">p = 0.11</text>
<text x="391.10" y="509.93" class="c">corr = -0.21</text>
<text x="391.10" y="518.52" class="c">p = 0.93</text>
<text x="425.85" y="509.93" class="c">corr = 0.36</text>
<text x="425.85" y="518.52" class="c">p = 0.31</text>
<text x="460.60" y="509.93" class="c">corr = 0.47</text>
<text x="460.60" y="518.52" class="c">p = 0.42</text>
<text x="493.90" y="512.32" class="c">corr = 1</text>
<text x="493.90" y="520.92" class="c">p = 0</text>
<text x="511.95" y="331.68" class="l">REA</text>
<text x="511.95" y="366.43" class="l">VEGFC</text>
<text x="511.95" y="402.68" class="l">IL7</text>
<text x="511.95" y="438.93" class="l">VEGFA</text>
<text x="511.95" y="475.18" class="l">FGF2</text>
<text x="511.95" y="509.93" class="l">lysoGb3</text>
<text transform="translate(320.95 526.80) rotate(90)" class="l">REA</text>
<text transform="translate(354.25 526.80) rotate(90)" class="l">VEGFC</text>
<text transform="translate(389.00 526.80) rotate(90)" class="l">IL7</text>
<text transform="translate(423.75 526.80) rotate(90)" class="l">VEGFA</text>
<text transform="translate(458.50 526.80) rotate(90)" class="l">FGF2</text>
<text transform="translate(491.80 526.80) rotate(90)" class="l">lysoGb3</text>
<line x1="460.60" y1="308.10" x2="493.90" y2="308.10"/>
<line x1="460.60" y1="308.10" x2="460.60" y2="312.00"/>
<line x1="493.90" y1="308.10" x2="493.90" y2="312.00"/>
<line x1="425.85" y1="305.50" x2="477.25" y2="305.50"/>
<line x1="425.85" y1="305.50" x2="425.85" y2="312.00"/>
<line x1="477.25" y1="305.50" x2="477.25" y2="308.10"/>
<line x1="391.10" y1="299.10" x2="451.55" y2="299.10"/>
<line x1="391.10" y1="299.10" x2="391.10" y2="312.00"/>
<line x1="451.55" y1="299.10" x2="451.55" y2="305.50"/>
<line x1="323.05" y1="308.40" x2="356.35" y2="308.40"/>
<line x1="323.05" y1="308.40" x2="323.05" y2="312.00"/>
<line x1="356.35" y1="308.40" x2="356.35" y2="312.00"/>
<line x1="339.70" y1="292.80" x2="421.32" y2="292.80"/>
<line x1="339.70" y1="292.80" x2="339.70" y2="308.40"/>
<line x1="421.32" y1="292.80" x2="421.32" y2="299.10"/>
<line x1="303.30" y1="472.88" x2="303.30" y2="507.62"/>
<line x1="303.30" y1="472.88" x2="306.40" y2="472.88"/>
<line x1="303.30" y1="507.62" x2="306.40" y2="507.62"/>
<line x1="300.90" y1="436.62" x2="300.90" y2="490.25"/>
<line x1="300.90" y1="436.62" x2="306.40" y2="436.62"/>
<line x1="300.90" y1="490.25" x2="303.30" y2="490.25"/>
<line x1="294.30" y1="400.38" x2="294.30" y2="463.44"/>
<line x1="294.30" y1="400.38" x2="306.40" y2="400.38"/>
<line x1="294.30" y1="463.44" x2="300.90" y2="463.44"/>
<line x1="303.90" y1="329.38" x2="303.90" y2="364.12"/>
<line x1="303.90" y1="329.38" x2="306.40" y2="329.38"/>
<line x1="303.90" y1="364.12" x2="306.40" y2="364.12"/>
<line x1="287.80" y1="346.75" x2="287.80" y2="431.91"/>
<line x1="287.80" y1="346.75" x2="303.90" y2="346.75"/>
<line x1="287.80" y1="431.91" x2="294.30" y2="431.91"/>
<defs><linearGradient id="gD" x1="0" y1="1" x2="0" y2="0"><stop offset="0" stop-color="#ffff00"/><stop offset="0.5" stop-color="#ffa500"/><stop offset="1" stop-color="#ff0000"/></linearGradient></defs>
<rect x="536.10" y="311.60" width="3.9" height="55.20" fill="url(#gD)"/>
<text x="541.50" y="313.00" class="t">1</text>
<text x="541.50" y="328.68" class="t">0.5</text>
<text x="541.50" y="344.36" class="t">0</text>
<text x="541.50" y="360.05" class="t">-0.5</text>
<text x="314.50" y="286.50" class="ti">Fabry Non Classical Phenotype (Non Treated)</text>
<text x="270.30" y="289.30" class="le">D</text>
</svg>
</body></html>
